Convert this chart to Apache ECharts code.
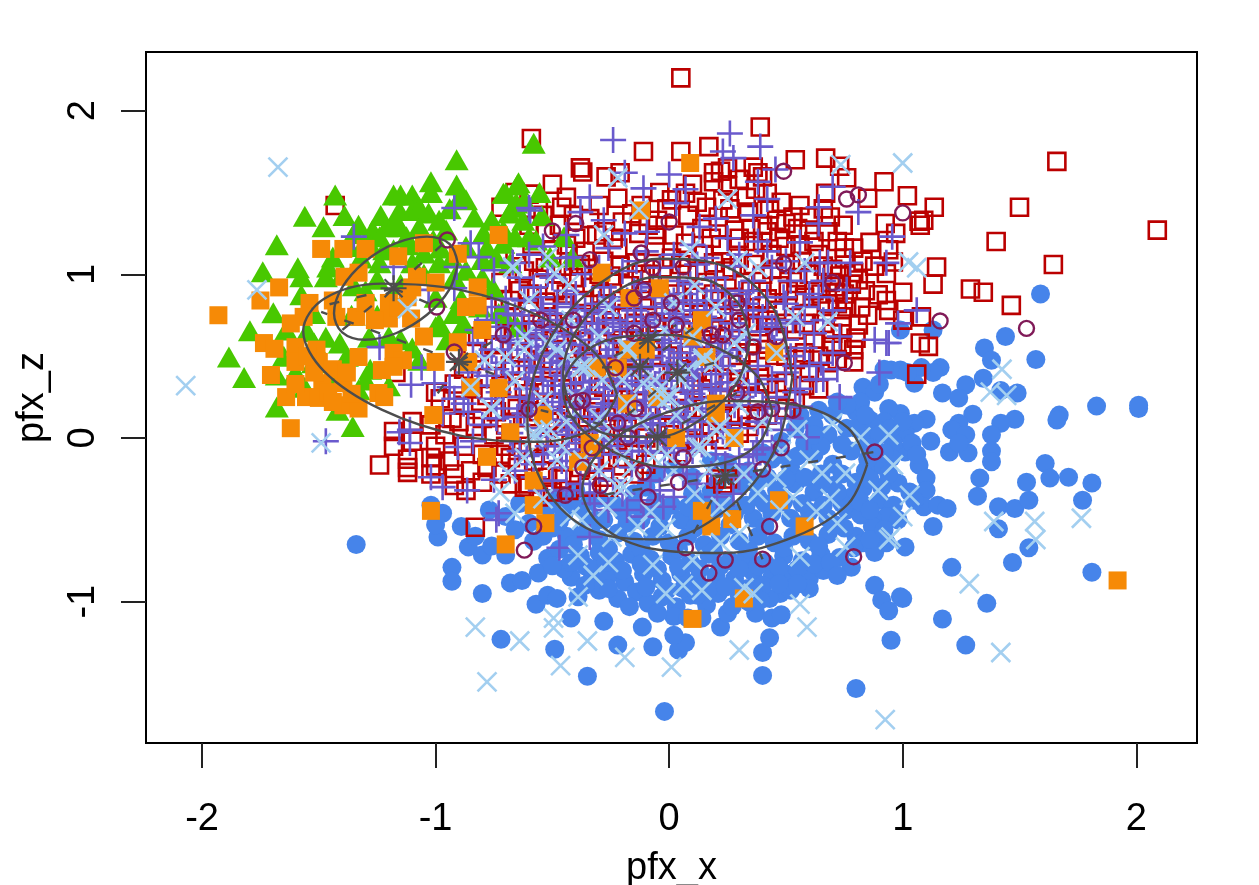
<!DOCTYPE html>
<html>
<head>
<meta charset="utf-8">
<style>html,body{margin:0;padding:0;background:#fff;overflow:hidden}#chart{width:1259px;height:885px}</style>
<script src="https://cdn.jsdelivr.net/npm/echarts@6/dist/echarts.min.js"></script>
</head>
<body>
<div id="chart"></div>
<script>
// Pitch movement: horizontal (pfx_x) against vertical (pfx_z) break, one symbol per pitch type.
const xTicks = [-2, -1, 0, 1, 2];
const zTicks = [-1, 0, 1, 2];

const sinkers = [
[2.01,.18],[2.01,.20],[1.83,.195],[1.67,.14],[1.66,.11],[1.48,.115],[1.42,.09],[1.38,.02],[1.38,-.08],[1.38,-.145],[1.30,.145],[1.24,.09],[1.21,.05],[1.27,.02],[1.20,-.085],[1.28,-.09],[1.24,-.03],[1.12,-.02],[1.10,.115],[1.05,.09],[.99,.15],[.94,.18],[.86,.11],[.80,.16],[1.01,.03],[1.01,-.085],[.96,-.03],[.90,-.165],[1.07,-.165],[1.10,-.245],[1.10,-.32],[.98,-.275],[.91,-.30],[.83,-.305],[.90,-.38],[.96,-.41],[1.09,-.42],[1.15,-.41],[1.19,-.43],[1.13,-.54],[.93,-.48],[.87,-.49],[.87,-.54],[.80,-.60],[.83,-.64],[.88,-.70],[.93,-.64],[1.01,-.665],[.78,-.79],[1.33,-.245],[1.32,-.355],[1.41,-.42],[1.48,-.43],[1.54,-.38],[1.53,-.27],[1.61,-.155],[1.63,-.245],[1.71,-.24],[1.81,-.275],[1.77,-.38],[1.41,-.555],[1.54,-.67],[1.47,-.76],[1.81,-.82],[1.21,-.79],[1.36,-1.01],[1.17,-1.105],[.95,-1.235],[1.27,-1.265],[.80,-1.53],[.88,-.90],[.91,-.99],[.94,-1.055],[.99,-.97],[1.0,-.98],
[1.59,.88],[1.44,.62],[1.57,.48],[1.35,.55],[1.38,.475],[1.345,.365],[1.42,.29],[1.49,.275],[1.27,.325],[1.16,.43],[1.13,.40],[1.08,.43],[.95,.415],[.99,.415],[1.05,.335],[.83,.31],[.88,.28],[1.17,.275],[1.24,.245],[.99,.66],[1.13,.66],[.92,.42],[1.02,.40],[.90,.33],
[-.02,-1.67],[.40,-1.45],[-.35,-1.455],[-.49,-1.29],[-.72,-1.23],[-.22,-1.265],[-.07,-1.275],[.04,-1.295],[.07,-1.25],[.02,-1.205],[.40,-1.31],[.43,-1.22],[-.115,-1.155],[-.28,-1.12],[-.42,-1.10],[-.57,-1.015],[-.52,-.96],[-.48,-.98],[-.39,-.97],[-.80,-.95],[-.68,-.885],[-.63,-.87],[-.56,-.825],[-.93,-.79],[-.93,-.875],[-.86,-.665],[-.80,-.715],[-.70,-.715],[-.52,-.735],[-.42,-.85],[-.33,-.855],[.22,-1.155],[.25,-1.07],[.27,-1.03],[.37,-1.07],[.44,-1.10],[.48,-1.08],[.475,-.95],[.52,-.93],[-.99,-.605],[-1.0,-.53],[-1.02,-.41],[-.89,-.54],[-1.34,-.65],[-.97,-.46],[-.83,-.60],[-.76,-.66],
[-.50,-.55],[-.44,-.60],[-.37,-.57],[-.30,-.62],[-.22,-.58],[-.15,-.63],[-.07,-.60],[0,-.64],[.08,-.60],[.15,-.65],[.22,-.60],[.30,-.63],[.38,-.60],[.45,-.64],[.53,-.60],[.60,-.63],[.68,-.59],[.75,-.55],
[-.47,-.68],[-.38,-.72],[-.30,-.70],[-.23,-.75],[-.16,-.71],[-.08,-.74],[.01,-.72],[.09,-.76],[.17,-.71],[.26,-.75],[.33,-.72],[.41,-.76],[.49,-.72],[.57,-.75],[.65,-.71],[.73,-.73],
[-.45,-.80],[-.36,-.78],[-.26,-.84],[-.19,-.88],[-.11,-.83],[-.03,-.87],[.05,-.83],[.12,-.87],[.20,-.84],[.28,-.86],[.36,-.82],[.44,-.85],[.52,-.83],[.60,-.86],[.66,-.81],
[-.30,-.93],[-.22,-.98],[-.14,-.94],[-.09,-1.01],[-.03,-.97],[.03,-1.03],[.09,-.96],[.16,-1.02],[.21,-.95],[.30,-.96],[.37,-.93],[.43,-.98],[.02,-1.09],[.08,-1.10],[-.05,-1.07],[.14,-1.10],[.60,-.92],
[-.52,-.42],[-.45,-.46],[-.37,-.43],[-.28,-.50],[-.20,-.45],[-.12,-.50],[-.03,-.46],[.05,-.50],[.12,-.47],[.20,-.44],[.28,-.46],[.36,-.49],[.44,-.46],[.52,-.49],[.60,-.45],[.68,-.49],[.76,-.44],[.82,-.47],
[-.40,-.32],[-.30,-.37],[-.15,-.34],[-.06,-.39],[.10,-.34],[.18,-.32],[.30,-.29],[.38,-.36],[.46,-.32],[.54,-.28],[.62,-.33],[.70,-.29],[.78,-.36],
[.25,-.15],[.34,-.20],[.44,-.13],[.52,-.18],[.62,-.10],[.70,-.16],[.78,-.08],[.58,-.03],[.68,.02],[.76,.06],[.84,.00],[.62,.08],[.70,.14],[.56,.14],[.82,.22],[.92,.10],[.65,-.22],[.74,-.22],[.84,-.20],[.48,-.02],
[-.64,-.40],[-.60,-.52],[-.58,-.63],[-.66,-.56],[-.70,-.48],[-.77,-.44],[-.34,-.47],[-.10,-.30],[-.06,-.22],[.02,-.18],[.10,-.24],[.18,-.14],
[-.54,-.60],[-.47,-.51],[-.41,-.65],[-.33,-.53],[-.26,-.68],[-.18,-.52],[-.12,-.68],[-.04,-.54],[.04,-.68],[.11,-.55],[.19,-.69],[.26,-.53],[.34,-.68],[.41,-.54],[.49,-.67],[.56,-.53],[.64,-.66],[.71,-.53],[.79,-.67],[.86,-.62],
[-.50,-.78],[-.42,-.76],[-.33,-.80],[-.27,-.76],[-.20,-.81],[-.12,-.77],[-.05,-.80],[.04,-.79],[.13,-.80],[.22,-.78],[.30,-.80],[.38,-.78],[.47,-.79],[.55,-.80],[.62,-.77],[.69,-.76],[.72,-.84],
[-.36,-.90],[-.26,-.92],[-.17,-1.03],[-.10,-.91],[-.01,-.93],[.06,-.92],[.12,-.96],[.17,-.92],[.24,-.91],[.33,-.92],[.40,-.90],[.47,-.89],[.55,-.89],[.34,-1.0],[.39,-.99],
[-.48,-.36],[-.42,-.40],[-.34,-.38],[-.24,-.40],[-.16,-.41],[-.08,-.44],[.01,-.41],[.08,-.42],[.16,-.39],[.24,-.38],[.33,-.41],[.41,-.40],[.49,-.39],[.57,-.40],[.66,-.41],[.74,-.40],[.82,-.39],[.86,-.44],
[.20,-.28],[.27,-.23],[.37,-.28],[.42,-.24],[.50,-.25],[.58,-.24],[.66,-.28],[.72,-.33],[.80,-.27],[.86,-.25],[.40,-.09],[.48,-.10],[.55,-.11],[.65,-.05],[.74,-.04],[.80,.06],[.88,.06],[.54,.06],[.62,.02],[.76,.20],[.84,.14],[.72,.22],[.64,.17],
[.95,-.12],[1.04,-.03],[1.06,-.10],[.94,-.22],[1.03,-.33],[1.05,-.38],[.98,-.50],[.92,-.56],[.95,.06],[.90,.02],[1.0,.10],[.86,-.06],[.92,-.09],[.85,-.13]
];

const cutters = [
[.05,2.20],[-.59,1.83],[-.11,1.75],[.05,1.75],[.17,1.78],[.39,1.90],[-.38,1.65],[-.37,1.625],[-.21,1.62],[.22,1.63],[.25,1.65],[.54,1.70],[.67,1.71],[.73,1.66],[.76,1.59],[.36,1.655],[.38,1.62],[.19,1.565],[.19,1.62],[-.50,1.55],[-.44,1.47],[-.46,1.41],[-.27,1.595],[-.22,1.465],[-.04,1.50],[.07,1.495],[.01,1.455],[.16,1.41],[.23,1.455],[.33,1.47],[.40,1.595],[.42,1.495],[.46,1.33],[.53,1.35],[.60,1.35],[.67,1.495],[.69,1.35],[.745,1.30],[.79,1.16],[.75,1.16],[.79,1.01],
[-1.43,1.42],[-.72,1.41],[-.66,1.50],[-.60,1.49],[-1.17,.40],[-1.0,.28],
[1.66,1.69],[1.50,1.41],[2.09,1.27],[1.40,1.20],[1.645,1.06],[1.29,.91],[1.345,.89],[1.465,.81],[1.145,1.045],[1.13,.94],[1.135,1.41],[1.02,1.48],[1.09,1.33],[1.07,1.325],[1.075,1.30],[.92,1.565],[.85,1.465],[.925,1.31],[.97,1.25],[.86,1.195],[.94,1.15],[.96,1.075],[.93,1.005],[1.0,.89],[.895,.875],[.93,.84],[.94,.78],[1.0,.72],[1.08,.74],[1.075,.58],[1.11,.56],[1.06,.39],[.81,.965],[.82,.80],[.81,.69],[.80,.61],[.79,.54],[.79,.465],[.84,.90],[.85,.75],[.88,1.05],[.83,1.08],
[-1.24,-.165],[-1.12,-.13],[-1.12,-.18],[-1.12,-.21],[-1.02,-.12],[-1.0,-.17],[-1.02,-.22],[-.94,-.14],[-.92,-.22],[-.87,-.32],[-.83,-.545],[-1.18,-.05],[-1.1,-.02],[-1.18,.04],[-1.1,.10],[-1.0,-.05],[-.96,.02],[-1.02,.08],[-.93,.12],[-.88,-.05],[-.85,-.20],[-.80,-.27],[-.72,-.22],[-.92,-.29],[-.80,-.10],[-.75,.02],[-.83,.07],[-.70,-.05],[-.65,-.18],[-.60,-.28],
[-.60,1.30],[-.53,1.25],[-.47,1.30],[-.40,1.22],[-.34,1.34],[-.28,1.26],[-.20,1.32],[-.13,1.25],[-.05,1.33],[.02,1.24],[.08,1.36],[.14,1.28],[.21,1.35],[.28,1.27],[.34,1.38],[.40,1.30],[.47,1.22],[.55,1.28],[.62,1.20],[.68,1.26],[.56,1.42],[.48,1.44],[.25,1.54],[.10,1.55],[-.12,1.42],[-.30,1.42],[.37,1.52],[.30,1.58],
[-.66,1.15],[-.58,1.08],[-.50,1.15],[-.43,1.05],[-.36,1.14],[-.28,1.08],[-.22,1.16],[-.14,1.07],[-.06,1.17],[.01,1.10],[.07,1.19],[.15,1.12],[.22,1.18],[.30,1.10],[.36,1.20],[.44,1.12],[.50,1.17],[.57,1.08],[.64,1.12],[.70,1.03],[.75,1.10],[.42,1.26],[.30,1.22],[-.09,1.30],
[-.72,.95],[-.64,.90],[-.56,.97],[-.49,.90],[-.41,.98],[-.33,.92],[-.25,.99],[-.17,.93],[-.08,1.0],[0,.93],[.08,1.0],[.16,.95],[.24,1.02],[.32,.95],[.40,1.0],[.47,.93],[.55,.98],[.62,.90],[.69,.95],[.75,.88],
[-.78,.80],[-.70,.74],[-.60,.80],[-.52,.74],[-.45,.81],[-.36,.76],[-.27,.82],[-.18,.76],[-.10,.84],[-.02,.77],[.06,.83],[.14,.76],[.22,.84],[.30,.78],[.38,.85],[.46,.78],[.54,.84],[.60,.76],[.68,.82],[.74,.74],
[-.82,.62],[-.75,.57],[-.65,.63],[-.56,.58],[-.47,.64],[-.38,.59],[-.30,.65],[-.20,.60],[-.12,.66],[-.03,.60],[.05,.66],[.14,.60],[.22,.66],[.30,.60],[.38,.68],[.46,.62],[.54,.66],[.62,.58],[.70,.64],[.74,.56],
[-.88,.42],[-.78,.37],[-.68,.44],[-.58,.38],[-.50,.45],[-.42,.38],[-.33,.46],[-.24,.40],[-.15,.46],[-.06,.40],[.04,.47],[.12,.42],[.22,.47],[.30,.40],[.38,.47],[.46,.40],[.54,.48],[.60,.40],[.68,.46],
[-.98,.24],[-.88,.20],[-.78,.26],[-.68,.20],[-.60,.27],[-.50,.20],[-.41,.27],[-.32,.22],[-.24,.28],[-.14,.22],[-.05,.29],[.05,.23],[.14,.30],[.22,.24],[.30,.31],[.38,.24],[.46,.30],[.54,.24],
[-.80,.12],[-.70,.08],[-.60,.13],[-.52,.06],[-.44,.14],[-.35,.07],[-.27,.13],[-.18,.06],[-.08,.14],[.02,.08],[.10,.15],[.18,.08],[.26,.15],[.34,.07],[.42,.14],[.50,.18],
[-.60,-.05],[-.50,-.10],[-.42,-.04],[-.33,-.11],[-.25,-.04],[-.15,-.10],[-.06,-.03],[.04,-.09],[.12,-.03],[.22,-.01],[.30,.03],
[-.55,-.20],[-.46,-.25],[-.38,-.18],[-.28,-.24],[-.20,-.17],[-.62,-.30],[-.50,-.33],[-.35,-.30],[-.15,-.22],[-.26,-.30],[.20,-.25],[.23,-.28],[.25,-.25],
[-.56,1.40],[-.41,1.36],[-.31,1.24],[-.16,1.37],[-.01,1.40],[.12,1.44],[.26,1.40],[.43,1.40],[.50,1.31],[.60,1.27],[.66,1.40],[.35,1.28],[.18,1.22],[-.06,1.24],[-.24,1.22],[-.44,1.18],[-.54,1.36],[.72,1.20],[.56,1.18],[.40,1.20],
[-.62,1.02],[-.53,1.04],[-.46,1.0],[-.38,1.06],[-.30,1.0],[-.21,1.05],[-.12,1.0],[-.03,1.04],[.05,1.06],[.12,1.02],[.19,1.07],[.27,1.04],[.36,1.06],[.44,1.03],[.52,1.06],[.60,1.0],[.66,1.05],[.73,.99],[.78,.94],[.71,.89],
[-.68,.84],[-.60,.88],[-.53,.83],[-.44,.88],[-.37,.84],[-.29,.88],[-.20,.84],[-.12,.90],[-.04,.85],[.03,.88],[.11,.86],[.19,.88],[.27,.86],[.35,.90],[.42,.85],[.51,.90],[.58,.86],[.65,.88],[.72,.82],[.76,.80],
[-.74,.66],[-.66,.70],[-.58,.66],[-.50,.70],[-.42,.68],[-.32,.71],[-.24,.68],[-.15,.70],[-.06,.70],[.02,.68],[.10,.70],[.18,.68],[.26,.71],[.34,.70],[.42,.72],[.50,.70],[.58,.70],[.66,.70],[.74,.68],[.70,.56],
[-.84,.52],[-.74,.48],[-.64,.52],[-.54,.48],[-.44,.54],[-.36,.50],[-.26,.54],[-.18,.50],[-.08,.54],[0,.50],[.09,.52],[.17,.50],[.26,.55],[.34,.52],[.42,.54],[.50,.50],[.58,.52],[.64,.50],[.72,.48],
[-.92,.33],[-.84,.30],[-.72,.32],[-.62,.31],[-.54,.32],[-.46,.30],[-.37,.34],[-.28,.31],[-.18,.34],[-.10,.32],[0,.34],[.09,.34],[.18,.36],[.26,.34],[.34,.36],[.42,.33],[.50,.34],[.58,.32],[.64,.30],
[-.90,.10],[-.74,.16],[-.65,.18],[-.56,.16],[-.48,.10],[-.40,.18],[-.31,.16],[-.22,.16],[-.12,.18],[-.02,.17],[.07,.18],[.15,.18],[.22,.12],[.30,.14],[.38,.12],
[-.72,-.10],[-.64,.02],[-.56,-.02],[-.47,.01],[-.38,.02],[-.29,0],[-.20,.01],[-.10,.0],[0,.02],[.08,-.01],[.17,.03],
[-.78,-.18],[-.68,-.12],[-.58,-.14],[-.43,-.13],[-.32,-.16],[-.22,-.12],[-.10,-.16],[-.68,-.28],[-.56,-.36],[-.43,-.32],[-.52,-.24]
];

const curveballs = [
[-.91,1.70],[-1.43,1.485],[-1.02,1.565],[-1.18,1.485],[-1.15,1.485],[-1.10,1.485],[-.91,1.545],[-.90,1.465],[-1.02,1.50],[-1.56,1.355],[-1.48,1.29],[-1.39,1.36],[-1.33,1.30],[-1.235,1.36],[-1.27,1.27],[-1.68,1.18],[-1.74,1.015],[-1.59,1.04],[-1.575,.985],[-1.46,1.045],[-1.47,.985],[-1.575,.875],[-1.695,.765],[-1.795,.655],[-1.885,.495],[-1.82,.37],[-1.68,.19],[-1.355,.07],[-1.42,.17],[-1.30,.355],[-1.56,.31],[-1.68,.385],[-1.64,.66],[-1.155,1.39],[-1.10,1.39],[-1.03,1.375],[-.87,1.455],[-.835,1.35],[-.985,1.33],[-1.21,1.29],[-1.155,1.29],[-1.07,1.29],[-.955,1.27],[-.795,1.25],[-.755,.92],[-1.35,1.25],[-1.24,1.23],[-1.125,1.23],[-1.01,1.21],[-.87,1.17],[-.71,1.27],[-.645,1.56],[-.71,1.495],[-.655,1.435],[-.58,1.80],[-.555,1.50],[-.685,1.375],[-.625,1.33],[-.60,1.23],[-.71,1.19],[-1.24,1.07],[-1.10,1.07],[-.985,1.07],[-.87,1.025],[-.81,.80],[-.985,.70],[-1.0,.68],[-1.07,.475],[-1.285,.615],[-1.41,.58],[-1.47,.615],[-1.525,.46],[-1.44,.355],[-1.33,.295],[-.73,.76],[-1.07,1.41],[-1.44,1.105],[-1.37,1.17],[-1.31,1.18],[-.65,1.545],[-.545,1.36],[-.67,1.41],[-.66,1.23],[-.57,1.21],[-.45,1.23],[-.415,1.105],[-.51,1.105],[-.70,1.495],[-.71,.76],[-.65,.68],[-.68,1.07],[-1.18,1.15],[-1.05,1.13],[-.93,1.10],[-.80,1.09],[-1.15,.94],[-1.30,.90],[-1.0,.86],[-.89,.85],[-1.55,.65],[-1.25,.75],[-1.15,.60],[-1.52,.58],
[-1.32,1.10],[-1.22,1.15],[-1.12,1.18],[-.98,1.16],[-.78,1.16],[-.76,1.33],[-.94,1.40],[-1.17,1.33],[-1.28,1.18],[-1.40,1.00],[-1.35,.93],[-1.25,.97],[-1.05,1.0],[-.92,.98],[-.80,.98],[-.92,.76],[-.88,.70],[-1.38,.50],[-1.20,.62],[-1.28,.42],[-1.10,.55],[-.95,.60],[-1.20,.32],[-1.40,.44],[-1.65,.50],[-1.60,.40],[-1.36,.75],[-1.52,.76],[-.62,1.45],[-.74,1.10]
];

const sliders = [
[-.92,1.405],[-.60,1.405],[-1.18,1.045],[-1.35,1.23],[-1.03,.905],[-.91,1.045],[-.85,1.19],[-.815,1.105],[-.75,1.025],[-.92,.915],[-1.105,.325],[-1.47,-.02],[-1.06,.43],[-1.005,.335],[-.94,.31],[-1.155,.035],[-.905,-.055],[-1.24,.555],
[-.24,1.82],[.26,1.86],[.39,1.78],[.23,1.75],[.275,1.71],[0,1.61],[-.19,1.62],[-.11,1.525],[.455,1.64],[.38,1.565],[.42,1.46],[-.34,1.47],[.07,1.52],[-.595,1.39],[.64,1.41],[.70,1.535],[.81,1.38],[.955,1.23],[.93,1.07],[.775,1.07],[.68,1.07],[.56,1.195],[.64,1.31],[.38,1.2],[.25,1.22],[.13,1.29],[.03,1.435],[-.095,1.26],[-.19,1.25],[-.44,1.24],[-.54,1.17],[-.41,1.105],[-.67,1.07],[-.28,1.33],[.94,.58],[.88,.60],[.73,.62],[.62,.64],[.90,.40],[.63,.355],[.53,.72],[.49,.86],[.76,.905],[.645,1.07],[1.06,.78],[.98,.70],[.93,.58],
[-.47,-.67],[-.74,-.50],[-.73,-.46],[-.865,-.32],[-.97,-.30],[-1.02,-.24],[.205,-.36],[.275,-.34],[.02,-.36],[-.025,-.42],[.30,-.115],[.375,-.07],[.59,.005],[.73,.25],[.56,.19],[.075,-.175],[-.11,-.48],[-.18,-.44],[-.34,-.605],[-.55,-.32],[-.34,-.335],[-.75,-.255],[-1.11,.05],[-.97,.15],[-.88,.21],[-1.11,-.03],[-.65,.13],[.42,.09],[.25,.09],
[-.78,.72],[-.72,.62],[-.66,.75],[-.60,.64],[-.54,.78],[-.48,.68],[-.42,.80],[-.36,.70],[-.30,.82],[-.24,.72],[-.18,.84],[-.12,.74],[-.06,.86],[0,.76],[.06,.88],[.12,.78],[.18,.90],[.24,.80],[.30,.88],[.36,.78],[.42,.86],[.50,.60],[.44,.68],[.58,.80],[.66,.72],
[-.80,.50],[-.74,.42],[-.68,.54],[-.62,.44],[-.57,.56],[-.51,.46],[-.45,.58],[-.39,.48],[-.33,.60],[-.27,.50],[-.21,.62],[-.15,.52],[-.09,.64],[-.03,.54],[.03,.66],[.09,.56],[.15,.68],[.21,.58],[.27,.70],[.33,.60],[.39,.65],[.45,.55],[.52,.50],[.58,.55],[.65,.46],[.70,.52],
[-.82,.32],[-.76,.24],[-.70,.34],[-.64,.25],[-.58,.36],[-.52,.27],[-.46,.38],[-.40,.29],[-.34,.40],[-.28,.31],[-.22,.42],[-.16,.33],[-.10,.44],[-.04,.35],[.02,.46],[.08,.37],[.14,.48],[.20,.39],[.26,.50],[.32,.41],[.38,.44],[.44,.36],[.50,.40],[.56,.30],[.60,.44],
[-.74,.12],[-.68,.03],[-.62,.15],[-.56,.06],[-.50,.17],[-.44,.08],[-.38,.19],[-.32,.10],[-.26,.21],[-.20,.12],[-.14,.23],[-.08,.14],[-.02,.25],[.04,.16],[.10,.27],[.16,.18],[.22,.29],[.28,.20],[.34,.28],[.40,.20],[.46,.25],[.52,.12],
[-.64,-.08],[-.58,-.16],[-.52,-.05],[-.46,-.14],[-.40,-.03],[-.34,-.12],[-.28,-.01],[-.22,-.10],[-.16,.01],[-.10,-.08],[-.04,.03],[.02,-.06],[.08,.05],[.14,-.04],[.20,-.10],[.26,.0],[.34,-.16],[.40,-.02],[.48,.05],
[-.50,-.26],[-.44,-.18],[-.38,-.28],[-.30,-.20],[-.24,-.26],[-.16,-.18],[-.08,-.26],[-.02,-.18],[.12,-.28],[.18,-.22],[.30,-.24],[-.26,-.44],[-.04,-.32],
[-.58,.92],[-.50,.98],[-.44,.90],[-.36,1.0],[-.28,.92],[-.20,1.02],[-.12,.94],[-.04,1.04],[.04,.96],[.12,1.06],[.20,.98],[.28,1.05],[.36,.96],[.44,1.04],[.52,.96],[.60,.88],[.66,.96],[-.70,.85],[-.64,.98],
[-.38,1.38],[-.26,1.16],[-.10,1.14],[.10,1.18],[.20,1.34],[.36,1.36],[.50,1.08],[-.60,1.12],[-.50,.52],[-.31,.66],[-.10,.32],[.10,.42],
[-.74,.68],[-.69,.60],[-.63,.70],[-.57,.62],[-.51,.72],[-.45,.64],[-.39,.74],[-.33,.66],[-.27,.76],[-.21,.68],[-.15,.78],[-.09,.70],[-.03,.80],[.03,.72],[.09,.82],[.15,.74],[.21,.84],[.27,.76],[.33,.82],
[-.76,.54],[-.71,.46],[-.65,.58],[-.59,.48],[-.54,.60],[-.48,.50],[-.42,.62],[-.36,.52],[-.30,.64],[-.24,.54],[-.18,.66],[-.12,.56],[-.06,.68],[0,.58],[.06,.70],[.12,.60],[.18,.72],[.24,.62],[.30,.66],
[-.78,.38],[-.73,.28],[-.67,.40],[-.61,.30],[-.55,.42],[-.49,.32],[-.43,.44],[-.37,.34],[-.31,.46],[-.25,.36],[-.19,.48],[-.13,.38],[-.07,.50],[-.01,.40],[.05,.52],[.11,.42],[.17,.54],[.23,.44],[.29,.54],
[-.71,.18],[-.65,.08],[-.59,.20],[-.53,.11],[-.47,.22],[-.41,.13],[-.35,.24],[-.29,.15],[-.23,.26],[-.17,.17],[-.11,.28],[-.05,.19],[.01,.30],[.07,.21],[.13,.32],[.19,.23],[.25,.34],[.31,.25],[.37,.33],
[-.67,-.02],[-.61,-.11],[-.55,.01],[-.49,-.09],[-.43,.02],[-.37,-.07],[-.31,.04],[-.25,-.05],[-.19,.06],[-.13,-.03],[-.07,.08],[-.01,-.01],[.05,.10],[.11,.01],[.17,.10],[.23,.04],[.31,.06],
[-.76,.80],[-.69,.76],[-.62,.84],[-.55,.86],[-.48,.82],[-.40,.88],[-.33,.78],[-.25,.86],[-.15,.90],[-.07,.92],[.02,.84],[.09,.94],[.16,.84],[.24,.90],[.34,.90],[.40,.74],[.46,.70],[.50,.82],[.56,.70],
[-.52,1.0],[-.44,1.10],[-.30,1.04],[-.14,1.08],[.02,1.12],[.16,1.10],[.30,1.12],[.42,1.14],[.58,1.02],[.64,.86],[.70,.78],[.72,.42],[.66,.36],[.54,.44],[.46,.18],[.38,.10],[.54,.28],
[-.44,-.32],[-.32,-.40],[-.20,-.34],[-.12,-.38],[.06,-.22],[.24,-.16],[.36,-.10],[.44,-.06],[-.58,-.24],[-.66,-.20],[-.84,-.02],[-.80,.08],[-.86,.16],[-.92,.24],[-.86,.40],[-.84,.58],[-.82,.66],
[-.56,.50],[-.50,.56],[-.44,.47],[-.38,.57],[-.32,.49],[-.26,.58],[-.20,.47],[-.14,.59],[-.08,.48],[-.02,.60],[.04,.49],[.10,.61],[.16,.50],[.22,.52],
[-.60,.40],[-.54,.35],[-.48,.42],[-.42,.33],[-.36,.42],[-.30,.35],[-.24,.44],[-.18,.35],[-.12,.42],[-.06,.33],[0,.44],[.06,.35],[.12,.45],[.18,.33],
[-.58,.24],[-.52,.19],[-.46,.27],[-.40,.21],[-.34,.28],[-.28,.19],[-.22,.30],[-.16,.22],[-.10,.20],[-.04,.27],[.02,.22],[.08,.29],[.14,.24],[.20,.30],
[-.60,.70],[-.54,.66],[-.48,.76],[-.42,.68],[-.36,.78],[-.30,.70],[-.24,.80],[-.18,.70],[-.12,.80],[-.06,.72],[0,.82],[.06,.74],[.12,.84],
[-.52,.04],[-.46,.11],[-.40,.05],[-.34,.13],[-.28,.06],[-.22,.14],[-.16,.07],[-.10,.12],[-.04,.09],[.02,.13],[.08,.12],[.14,.10],[.20,.16],
[-.54,-.10],[-.44,-.08],[-.36,-.01],[-.30,-.10],[-.22,-.02],[-.16,-.08],[-.08,-.02],[-.02,-.09],[.04,-.03],[.10,-.08]
];

const changeups = [
[-1.93,.75],[-1.75,.84],[-1.67,.92],[-1.49,1.155],[-1.395,1.155],[-1.30,1.155],[-1.16,1.11],[-1.05,1.19],[-.905,1.125],[-.73,1.24],[-1.39,.985],[-1.33,1.01],[-1.08,.985],[-1.10,.92],[-.82,.92],[-1.54,.825],[-1.44,.84],[-1.565,.74],[-1.62,.70],[-1.425,.74],[-1.34,.74],[-1.30,.825],[-1.20,.825],[-1.20,.73],[-1.105,.73],[-.87,.80],[-.82,.81],[-.80,.66],[-1.05,.62],[-1.735,.58],[-1.69,.545],[-1.60,.555],[-1.60,.465],[-1.51,.54],[-1.50,.465],[-1.705,.385],[-1.33,.495],[-1.18,.52],[-1.14,.475],[-1.23,.415],[-1.18,.435],[-1.0,.465],[-.905,.585],[-.86,.465],[-1.485,.335],[-1.395,.335],[-1.64,.25],[-1.555,.25],[-1.50,.245],[-1.395,.20],[-1.33,.18],[-1.245,.275],[-1.22,.25],[-1.62,.06],[-1.01,.14],[-.85,.31],[-.73,.305],[-.68,.035],[-.78,-.115],
[-1.52,.40],[-1.44,.42],[-1.46,.28],[-1.36,.27],[-1.44,.22],[-1.38,.40],[-1.55,.50],[-1.60,.33],[-1.16,.80],[-1.26,.72],[-1.12,.86],[-1.00,.95],
[-1.02,-.445],[-.70,-.65],[-.58,-.26],[-.58,-.41],[-.53,-.52],[.10,-1.105],[.32,-.98],[1.92,-.87],[.14,-.445],[.18,-.54],[.27,-.495],[.47,-.38],[.58,-.54],[.28,0],[.03,0],[.20,.15],[.20,.21],[-.33,-.06],[-.39,-.145],[-.05,.25],[-.18,.21],[-.54,.14],
[.09,1.68],[-.12,1.39],[-.29,1.01],[-.04,.915],[-.17,.855],[.14,.72],[.10,.62],[.16,.495],[.45,.525],[-.10,.54],[-.175,.54],[-.31,.43],[-.22,.43],[-.34,-.03]
];

const fourSeams = [
[-1.675,1.655],[-2.07,.32],[-1.765,.905],[-1.49,-.03],[-1.12,.79],[-.85,.31],[-.67,1.04],[-.76,.18],[-.60,.84],[-.62,.62],[-.70,.495],[-.79,.475],[-.58,.005],
[1.0,1.68],[1.025,1.075],[1.06,1.04],[1.425,.42],[1.375,.28],[1.445,.26],[.94,.02],[.82,.005],[.96,-.165],[.895,-.32],[1.03,-.35],[1.0,-.48],[.94,-.62],[1.285,-.89],[1.39,-.51],[1.565,-.51],[1.57,-.62],[1.765,-.49],[1.42,-1.31],[.925,-1.72],
[-.83,-1.155],[-.64,-1.24],[-.495,-1.16],[-.495,-1.10],[-.35,-1.24],[-.465,-1.39],[-.78,-1.49],[-.19,-1.34],[.01,-1.40],[.30,-1.295],[.59,-1.155],[.56,-1.015],[.14,-.93],[-.015,-.95],[.06,-.90],[.32,-.915],[.36,-.95],[-.39,-.97],[-.325,-.84],[-.26,-.76],[-.39,-.715],[-.07,-.775],[.10,-.745],[.22,-.64],[.56,-.725],[.72,-.52],[.63,-.45],[.69,-.37],[.755,-.215],[.655,-.215],[.95,-.605],[.755,-.665],[.55,.05],[.38,-.335],[.53,-.36],[.46,-.24],[.60,-.135],[.70,.09],[.475,-.44],[.17,-.195],[-.015,-.55],[-.135,-.54],[-.245,-.605],[-.375,-.50],[-.265,-.42],[-.66,-.46],[-.725,-.33],[-.54,-.37],[-.425,-.48],[-.22,-.30],[-.195,-.30],[-.07,-.115],[-.01,-.10],[.14,-.06],[-.51,.05],[-.58,.03],[-.765,.18],[-.05,.25],[-.01,.245],[.20,.05],[.275,0],[-.69,-.21],[-.37,-.135],[-.48,-.135],
[.735,1.67],[-.22,1.59],[.25,1.46],[-.13,1.395],[-.28,1.24],[.09,1.15],[.295,1.085],[.38,1.04],[.58,1.07],[-.52,1.105],[-.67,1.045],[-.49,1.005],[-.43,.935],[.11,.935],[.54,.74],[.68,.71],[.02,.825],[.33,.64],[.10,.62],[.145,.49],[.46,.52],[-.18,.54],[-.37,.435],[-.48,.54],[-.62,.54],[-.20,.355],[-.06,.355],[.08,.415],[.19,.46],[.30,.375],[-.35,.435],[-.38,.43],[-.18,.555],[-.05,.29],[-.18,.21],[-.54,.05],[.005,.25],[.145,.475],[-.2,-.115],[.12,-.055],[.22,.07],[.05,.355],[-.11,.335],[-.285,.355],[-.435,.495],[-.52,.58],[-.54,.23],
[-.30,.12],[-.40,.25],[-.12,.10],[-.28,.02],[.03,.14],[.12,.18],[.30,.20],[-.44,.10],[-.66,.35],[-.30,.62],[-.42,.72],[.20,.80],[-.02,.66],[.28,.58],[-.26,.80],[-.62,-.12],[-.46,-.05],[-.16,-.18],[.02,-.20],[.32,-.22],[.11,-.34],[.22,-.42],[-.08,-.45],[.30,-.58],[.48,-.08],[-.30,-.20],[.40,.10]
];

const knuckleballs = [
[-.95,1.21],[-.995,.80],[-.92,.525],[-.71,.63],[-.60,.175],[-.50,1.265],[-.40,1.31],[-.34,1.09],[0,1.32],[.49,1.63],[.76,1.46],[.81,1.485],[1.0,1.375],[.75,.46],[.49,1.065],[.70,.95],[.29,.825],[.01,.825],[-.11,.905],[-.15,.855],[-.07,.72],[.03,.69],[.30,.72],[.18,.63],[.23,.63],[-.15,.64],[-.23,.43],[.36,.555],[.46,.62],[-.41,.72],[-.55,.72],[.06,1.045],[-.07,1.04],[-.12,1.13],[1.16,.715],[1.53,.67],[.88,-.085],[.79,-.725],[.43,-.54],[.40,-.74],[.24,-.745],[.17,-.825],[.07,-.67],[-.62,-.685],[-.58,-.54],[-.09,-.36],[.04,-.27],[.06,-.12],[.40,-.19],[.48,-.06],[.53,.17],[.44,.18],[.38,.16],[.29,.275],[-.145,.18],[-.22,.09],[-.175,.005],[-.33,-.06],[-.37,-.18],[-.295,-.29],[-.11,-.21],[-.445,-.35],[-.395,.22],[-.37,.23]
];

const clusterCentres = [[-1.18,.915],[-.90,.465],[-.09,.60],[-.125,.435],[.035,.40],[-.05,.005],[.24,-.23]];

// Confidence outlines around each pitch group, as closed curves.
const outlineA = [[-.905,1.068],[-.94,.91],[-1.037,.753],[-1.17,.64],[-1.303,.60],[-1.40,.645],[-1.435,.762],[-1.40,.92],[-1.303,1.077],[-1.17,1.19],[-1.037,1.23],[-.94,1.185],[-.905,1.068]];
const outlineB = [[-.223,.265],[-.313,.069],[-.559,-.023],[-.895,.015],[-1.231,.173],[-1.477,.407],[-1.567,.655],[-1.477,.851],[-1.231,.943],[-.895,.905],[-.559,.747],[-.313,.513],[-.223,.265]];
const outlineC = [[.346,.599],[.292,.34],[.146,.124],[-.054,.006],[-.254,.02],[-.40,.16],[-.454,.391],[-.40,.65],[-.254,.87],[-.054,.984],[.146,.97],[.292,.83],[.346,.599]];
const outlineD = [[.442,.159],[.382,-.034],[.218,-.157],[-.006,-.178],[-.23,-.09],[-.394,.082],[-.454,.293],[-.394,.486],[-.23,.61],[-.006,.63],[.218,.543],[.382,.37],[.442,.159]];
const outlineE = [[.527,.369],[.451,-.077],[.244,-.439],[-.04,-.619],[-.324,-.57],[-.531,-.304],[-.607,.107],[-.531,.553],[-.324,.915],[-.04,1.095],[.244,1.045],[.451,.781],[.527,.369]];
const outlineF = [[.848,-.161],[.766,-.403],[.543,-.60],[.238,-.702],[-.067,-.678],[-.29,-.537],[-.372,-.315],[-.29,-.073],[-.067,.126],[.238,.226],[.543,.202],[.766,.061],[.848,-.161]];

// Dashed rays from each group centre out to its reference points.
const rays = [
[[-1.18,.915],[-.95,1.21]],[[-1.18,.915],[-.995,.80]],[[-1.18,.915],[-1.53,.79]],[[-1.18,.915],[-1.40,.66]],
[[-.90,.465],[-1.49,.77]],[[-.90,.465],[-.71,.63]],[[-.90,.465],[-1.03,.19]],[[-.90,.465],[-.75,.39]],
[[-.05,.005],[-.55,.17]],[[-.05,.005],[.29,.275]],[[-.09,.60],[.03,.69]],[[-.09,.60],[-.25,.49]],
[[.035,.40],[.30,.50]],[[.035,.40],[-.22,.09]],[[-.125,.435],[-.35,.43]],[[-.125,.435],[.15,.72]],
[[.24,-.23],[.88,-.085]],[[.24,-.23],[-.34,-.36]],[[.24,-.23],[.40,-.74]],[[.24,-.23],[.07,-.67]]
];

const PLUS = 'path://M0 13L26 13M13 0L13 26';
const CROSS = 'path://M0 0L19 19M0 19L19 0';
const STAR = 'path://M13 0L13 26M0 13L26 13M4 4L22 22M4 22L22 4';

function marks(data, symbol, size, fill, stroke, width) {
  return {
    type: 'scatter', data: data, symbol: symbol, symbolSize: size, silent: true,
    itemStyle: { color: fill, borderColor: stroke, borderWidth: width, opacity: 1 }
  };
}
function outline(data) {
  return {
    type: 'line', data: data, smooth: .35, symbol: 'none', silent: true,
    lineStyle: { color: '#4d4d4d', width: 2.4 }
  };
}
function ray(data) {
  return {
    type: 'line', data: data, symbol: 'none', silent: true,
    lineStyle: { color: '#4d4d4d', width: 2.4, type: [10, 18] }
  };
}

const chart = echarts.init(document.getElementById('chart'), null, { renderer: 'canvas' });
const labelFont = { fontFamily: '"Liberation Sans", Arial, sans-serif', fontSize: 38, color: '#000' };
chart.setOption({
  animation: false,
  backgroundColor: '#fff',
  grid: { left: 146, right: 62, top: 52, bottom: 142, show: true, borderColor: '#000', borderWidth: 2, backgroundColor: 'transparent', outerBoundsMode: 'none' },
  xAxis: {
    type: 'value', min: -2.24, max: 2.26,
    name: 'pfx_x', nameLocation: 'middle', nameGap: 107, nameTextStyle: labelFont,
    axisLine: { show: false, onZero: false }, splitLine: { show: false },
    axisTick: { show: true, length: 25, customValues: xTicks, lineStyle: { color: '#222', width: 2 } },
    axisLabel: Object.assign({ show: true, margin: 58, customValues: xTicks }, labelFont)
  },
  yAxis: {
    type: 'value', min: -1.863, max: 2.358,
    name: 'pfx_z', nameLocation: 'middle', nameGap: 94, nameRotate: 90, nameTextStyle: labelFont,
    axisLine: { show: false, onZero: false }, splitLine: { show: false },
    axisTick: { show: true, length: 25, customValues: zTicks, lineStyle: { color: '#222', width: 2 } },
    axisLabel: Object.assign({ show: true, margin: 43, rotate: 90, customValues: zTicks }, labelFont)
  },
  series: [
    marks(sinkers, 'circle', 19, '#4684ea', '#4684ea', 0),
    marks(cutters, 'rect', 17, 'transparent', '#bb0000', 2.6),
    marks(curveballs, 'triangle', [24, 21], '#48c800', '#48c800', 0),
    marks(sliders, PLUS, 26, 'transparent', '#6a5acd', 2.6),
    marks(changeups, 'rect', 18, '#f68a06', '#f68a06', 0),
    marks(fourSeams, CROSS, 19, 'transparent', '#a3cff0', 2.6),
    marks(knuckleballs, 'circle', 15, 'transparent', '#801a58', 2.4),
    outline(outlineA), outline(outlineB), outline(outlineC), outline(outlineD), outline(outlineE), outline(outlineF)
  ].concat(rays.map(ray), [marks(clusterCentres, STAR, 26, 'transparent', '#4d4d4d', 2.2)])
});
</script>
</body>
</html>
